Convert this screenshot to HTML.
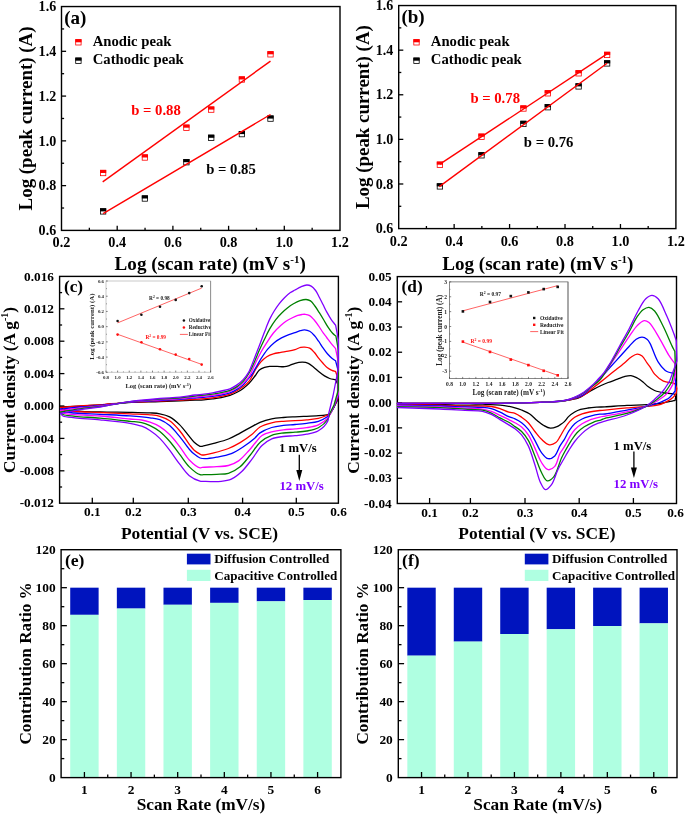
<!DOCTYPE html>
<html><head><meta charset="utf-8"><style>
html,body{margin:0;padding:0;background:#fff;width:685px;height:814px;overflow:hidden}
svg{display:block}
</style></head><body>
<svg width="685" height="814" viewBox="0 0 685 814" font-family="'Liberation Serif', 'Times New Roman', serif" font-weight="bold">
<defs><clipPath id="clipc"><rect x="100" y="280" width="110.4" height="93"/></clipPath></defs>
<rect x="61.50" y="6.55" width="278.50" height="223.85" fill="none" stroke="#000" stroke-width="1.4"/>
<line x1="61.50" y1="208.02" x2="64.10" y2="208.02" stroke="#000" stroke-width="1.3"/>
<line x1="61.50" y1="185.63" x2="66.10" y2="185.63" stroke="#000" stroke-width="1.3"/>
<line x1="61.50" y1="163.25" x2="64.10" y2="163.25" stroke="#000" stroke-width="1.3"/>
<line x1="61.50" y1="140.86" x2="66.10" y2="140.86" stroke="#000" stroke-width="1.3"/>
<line x1="61.50" y1="118.47" x2="64.10" y2="118.47" stroke="#000" stroke-width="1.3"/>
<line x1="61.50" y1="96.09" x2="66.10" y2="96.09" stroke="#000" stroke-width="1.3"/>
<line x1="61.50" y1="73.70" x2="64.10" y2="73.70" stroke="#000" stroke-width="1.3"/>
<line x1="61.50" y1="51.32" x2="66.10" y2="51.32" stroke="#000" stroke-width="1.3"/>
<line x1="61.50" y1="28.94" x2="64.10" y2="28.94" stroke="#000" stroke-width="1.3"/>
<line x1="89.35" y1="230.40" x2="89.35" y2="227.80" stroke="#000" stroke-width="1.3"/>
<line x1="117.20" y1="230.40" x2="117.20" y2="225.80" stroke="#000" stroke-width="1.3"/>
<line x1="145.05" y1="230.40" x2="145.05" y2="227.80" stroke="#000" stroke-width="1.3"/>
<line x1="172.90" y1="230.40" x2="172.90" y2="225.80" stroke="#000" stroke-width="1.3"/>
<line x1="200.75" y1="230.40" x2="200.75" y2="227.80" stroke="#000" stroke-width="1.3"/>
<line x1="228.60" y1="230.40" x2="228.60" y2="225.80" stroke="#000" stroke-width="1.3"/>
<line x1="256.45" y1="230.40" x2="256.45" y2="227.80" stroke="#000" stroke-width="1.3"/>
<line x1="284.30" y1="230.40" x2="284.30" y2="225.80" stroke="#000" stroke-width="1.3"/>
<line x1="312.15" y1="230.40" x2="312.15" y2="227.80" stroke="#000" stroke-width="1.3"/>
<text x="56.2" y="235.1" font-size="13.9" text-anchor="end" textLength="17.6" lengthAdjust="spacingAndGlyphs" fill="#000">0.6</text>
<text x="61.5" y="247.3" font-size="13.9" text-anchor="middle" textLength="17.8" lengthAdjust="spacingAndGlyphs" fill="#000">0.2</text>
<text x="56.2" y="190.32999999999998" font-size="13.9" text-anchor="end" textLength="17.6" lengthAdjust="spacingAndGlyphs" fill="#000">0.8</text>
<text x="117.2" y="247.3" font-size="13.9" text-anchor="middle" textLength="17.8" lengthAdjust="spacingAndGlyphs" fill="#000">0.4</text>
<text x="56.2" y="145.56" font-size="13.9" text-anchor="end" textLength="17.6" lengthAdjust="spacingAndGlyphs" fill="#000">1.0</text>
<text x="172.90000000000003" y="247.3" font-size="13.9" text-anchor="middle" textLength="17.8" lengthAdjust="spacingAndGlyphs" fill="#000">0.6</text>
<text x="56.2" y="100.78999999999998" font-size="13.9" text-anchor="end" textLength="17.6" lengthAdjust="spacingAndGlyphs" fill="#000">1.2</text>
<text x="228.60000000000002" y="247.3" font-size="13.9" text-anchor="middle" textLength="17.8" lengthAdjust="spacingAndGlyphs" fill="#000">0.8</text>
<text x="56.2" y="56.020000000000024" font-size="13.9" text-anchor="end" textLength="17.6" lengthAdjust="spacingAndGlyphs" fill="#000">1.4</text>
<text x="284.3" y="247.3" font-size="13.9" text-anchor="middle" textLength="17.8" lengthAdjust="spacingAndGlyphs" fill="#000">1.0</text>
<text x="56.2" y="11.25000000000001" font-size="13.9" text-anchor="end" textLength="17.6" lengthAdjust="spacingAndGlyphs" fill="#000">1.6</text>
<text x="340.0" y="247.3" font-size="13.9" text-anchor="middle" textLength="17.8" lengthAdjust="spacingAndGlyphs" fill="#000">1.2</text>
<text x="64.2" y="24.25" font-size="19" fill="#000">(a)</text>
<rect x="75.30" y="39.20" width="6.20" height="3.10" fill="#ff0000"/>
<rect x="75.70" y="39.60" width="5.40" height="5.40" fill="none" stroke="#ff0000" stroke-width="0.8"/>
<text x="92.7" y="45.5" font-size="14.7" fill="#000">Anodic peak</text>
<rect x="75.30" y="57.60" width="6.20" height="3.10" fill="#000"/>
<rect x="75.70" y="58.00" width="5.40" height="5.40" fill="none" stroke="#000" stroke-width="0.8"/>
<text x="92.7" y="63.5" font-size="14.7" fill="#000">Cathodic peak</text>
<rect x="100.00" y="169.90" width="6.20" height="3.10" fill="#ff0000"/>
<rect x="100.40" y="170.30" width="5.40" height="5.40" fill="none" stroke="#ff0000" stroke-width="0.8"/>
<rect x="141.80" y="154.40" width="6.20" height="3.10" fill="#ff0000"/>
<rect x="142.20" y="154.80" width="5.40" height="5.40" fill="none" stroke="#ff0000" stroke-width="0.8"/>
<rect x="183.30" y="124.60" width="6.20" height="3.10" fill="#ff0000"/>
<rect x="183.70" y="125.00" width="5.40" height="5.40" fill="none" stroke="#ff0000" stroke-width="0.8"/>
<rect x="208.10" y="106.50" width="6.20" height="3.10" fill="#ff0000"/>
<rect x="208.50" y="106.90" width="5.40" height="5.40" fill="none" stroke="#ff0000" stroke-width="0.8"/>
<rect x="238.80" y="76.40" width="6.20" height="3.10" fill="#ff0000"/>
<rect x="239.20" y="76.80" width="5.40" height="5.40" fill="none" stroke="#ff0000" stroke-width="0.8"/>
<rect x="267.40" y="51.20" width="6.20" height="3.10" fill="#ff0000"/>
<rect x="267.80" y="51.60" width="5.40" height="5.40" fill="none" stroke="#ff0000" stroke-width="0.8"/>
<rect x="100.00" y="208.30" width="6.20" height="3.10" fill="#000"/>
<rect x="100.40" y="208.70" width="5.40" height="5.40" fill="none" stroke="#000" stroke-width="0.8"/>
<rect x="141.80" y="195.40" width="6.20" height="3.10" fill="#000"/>
<rect x="142.20" y="195.80" width="5.40" height="5.40" fill="none" stroke="#000" stroke-width="0.8"/>
<rect x="183.30" y="159.10" width="6.20" height="3.10" fill="#000"/>
<rect x="183.70" y="159.50" width="5.40" height="5.40" fill="none" stroke="#000" stroke-width="0.8"/>
<rect x="208.10" y="134.70" width="6.20" height="3.10" fill="#000"/>
<rect x="208.50" y="135.10" width="5.40" height="5.40" fill="none" stroke="#000" stroke-width="0.8"/>
<rect x="238.80" y="131.00" width="6.20" height="3.10" fill="#000"/>
<rect x="239.20" y="131.40" width="5.40" height="5.40" fill="none" stroke="#000" stroke-width="0.8"/>
<rect x="267.40" y="115.50" width="6.20" height="3.10" fill="#000"/>
<rect x="267.80" y="115.90" width="5.40" height="5.40" fill="none" stroke="#000" stroke-width="0.8"/>
<line x1="102.70" y1="181.90" x2="270.50" y2="61.10" stroke="#ff0000" stroke-width="1.4"/>
<line x1="103.10" y1="213.60" x2="270.50" y2="114.50" stroke="#ff0000" stroke-width="1.4"/>
<text x="131.2" y="115.2" font-size="14.7" fill="#ff0000">b = 0.88</text>
<text x="206.2" y="174.3" font-size="14.7" fill="#000">b = 0.85</text>
<text transform="translate(31.5,118.47500000000001) rotate(-90)" font-size="18.9" text-anchor="middle" fill="#000">Log (peak current) (A)</text>
<text x="114.60000000000001" y="269.5" font-size="19.1" fill="#000">Log (scan rate) (mV s<tspan dy="-7" font-size="11">-1</tspan><tspan dy="7">)</tspan></text>
<rect x="398.70" y="5.55" width="277.20" height="223.05" fill="none" stroke="#000" stroke-width="1.4"/>
<line x1="398.70" y1="206.30" x2="401.30" y2="206.30" stroke="#000" stroke-width="1.3"/>
<line x1="398.70" y1="183.99" x2="403.30" y2="183.99" stroke="#000" stroke-width="1.3"/>
<line x1="398.70" y1="161.69" x2="401.30" y2="161.69" stroke="#000" stroke-width="1.3"/>
<line x1="398.70" y1="139.38" x2="403.30" y2="139.38" stroke="#000" stroke-width="1.3"/>
<line x1="398.70" y1="117.07" x2="401.30" y2="117.07" stroke="#000" stroke-width="1.3"/>
<line x1="398.70" y1="94.77" x2="403.30" y2="94.77" stroke="#000" stroke-width="1.3"/>
<line x1="398.70" y1="72.47" x2="401.30" y2="72.47" stroke="#000" stroke-width="1.3"/>
<line x1="398.70" y1="50.16" x2="403.30" y2="50.16" stroke="#000" stroke-width="1.3"/>
<line x1="398.70" y1="27.86" x2="401.30" y2="27.86" stroke="#000" stroke-width="1.3"/>
<line x1="426.42" y1="228.60" x2="426.42" y2="226.00" stroke="#000" stroke-width="1.3"/>
<line x1="454.14" y1="228.60" x2="454.14" y2="224.00" stroke="#000" stroke-width="1.3"/>
<line x1="481.86" y1="228.60" x2="481.86" y2="226.00" stroke="#000" stroke-width="1.3"/>
<line x1="509.58" y1="228.60" x2="509.58" y2="224.00" stroke="#000" stroke-width="1.3"/>
<line x1="537.30" y1="228.60" x2="537.30" y2="226.00" stroke="#000" stroke-width="1.3"/>
<line x1="565.02" y1="228.60" x2="565.02" y2="224.00" stroke="#000" stroke-width="1.3"/>
<line x1="592.74" y1="228.60" x2="592.74" y2="226.00" stroke="#000" stroke-width="1.3"/>
<line x1="620.46" y1="228.60" x2="620.46" y2="224.00" stroke="#000" stroke-width="1.3"/>
<line x1="648.18" y1="228.60" x2="648.18" y2="226.00" stroke="#000" stroke-width="1.3"/>
<text x="393.4" y="233.29999999999998" font-size="13.9" text-anchor="end" textLength="17.6" lengthAdjust="spacingAndGlyphs" fill="#000">0.6</text>
<text x="398.7" y="245.5" font-size="13.9" text-anchor="middle" textLength="17.8" lengthAdjust="spacingAndGlyphs" fill="#000">0.2</text>
<text x="393.4" y="188.68999999999997" font-size="13.9" text-anchor="end" textLength="17.6" lengthAdjust="spacingAndGlyphs" fill="#000">0.8</text>
<text x="454.14" y="245.5" font-size="13.9" text-anchor="middle" textLength="17.8" lengthAdjust="spacingAndGlyphs" fill="#000">0.4</text>
<text x="393.4" y="144.07999999999998" font-size="13.9" text-anchor="end" textLength="17.6" lengthAdjust="spacingAndGlyphs" fill="#000">1.0</text>
<text x="509.58000000000004" y="245.5" font-size="13.9" text-anchor="middle" textLength="17.8" lengthAdjust="spacingAndGlyphs" fill="#000">0.6</text>
<text x="393.4" y="99.46999999999996" font-size="13.9" text-anchor="end" textLength="17.6" lengthAdjust="spacingAndGlyphs" fill="#000">1.2</text>
<text x="565.02" y="245.5" font-size="13.9" text-anchor="middle" textLength="17.8" lengthAdjust="spacingAndGlyphs" fill="#000">0.8</text>
<text x="393.4" y="54.86000000000003" font-size="13.9" text-anchor="end" textLength="17.6" lengthAdjust="spacingAndGlyphs" fill="#000">1.4</text>
<text x="620.46" y="245.5" font-size="13.9" text-anchor="middle" textLength="17.8" lengthAdjust="spacingAndGlyphs" fill="#000">1.0</text>
<text x="393.4" y="10.25000000000001" font-size="13.9" text-anchor="end" textLength="17.6" lengthAdjust="spacingAndGlyphs" fill="#000">1.6</text>
<text x="675.9" y="245.5" font-size="13.9" text-anchor="middle" textLength="17.8" lengthAdjust="spacingAndGlyphs" fill="#000">1.2</text>
<text x="401.4" y="23.25" font-size="19" fill="#000">(b)</text>
<rect x="413.40" y="39.20" width="6.20" height="3.10" fill="#ff0000"/>
<rect x="413.80" y="39.60" width="5.40" height="5.40" fill="none" stroke="#ff0000" stroke-width="0.8"/>
<text x="430.8" y="45.5" font-size="14.7" fill="#000">Anodic peak</text>
<rect x="413.40" y="57.60" width="6.20" height="3.10" fill="#000"/>
<rect x="413.80" y="58.00" width="5.40" height="5.40" fill="none" stroke="#000" stroke-width="0.8"/>
<text x="430.8" y="63.5" font-size="14.7" fill="#000">Cathodic peak</text>
<rect x="436.80" y="161.60" width="6.20" height="3.10" fill="#ff0000"/>
<rect x="437.20" y="162.00" width="5.40" height="5.40" fill="none" stroke="#ff0000" stroke-width="0.8"/>
<rect x="478.40" y="133.60" width="6.20" height="3.10" fill="#ff0000"/>
<rect x="478.80" y="134.00" width="5.40" height="5.40" fill="none" stroke="#ff0000" stroke-width="0.8"/>
<rect x="520.30" y="105.40" width="6.20" height="3.10" fill="#ff0000"/>
<rect x="520.70" y="105.80" width="5.40" height="5.40" fill="none" stroke="#ff0000" stroke-width="0.8"/>
<rect x="544.70" y="90.20" width="6.20" height="3.10" fill="#ff0000"/>
<rect x="545.10" y="90.60" width="5.40" height="5.40" fill="none" stroke="#ff0000" stroke-width="0.8"/>
<rect x="575.50" y="70.20" width="6.20" height="3.10" fill="#ff0000"/>
<rect x="575.90" y="70.60" width="5.40" height="5.40" fill="none" stroke="#ff0000" stroke-width="0.8"/>
<rect x="604.00" y="51.80" width="6.20" height="3.10" fill="#ff0000"/>
<rect x="604.40" y="52.20" width="5.40" height="5.40" fill="none" stroke="#ff0000" stroke-width="0.8"/>
<rect x="436.80" y="183.30" width="6.20" height="3.10" fill="#000"/>
<rect x="437.20" y="183.70" width="5.40" height="5.40" fill="none" stroke="#000" stroke-width="0.8"/>
<rect x="478.40" y="152.20" width="6.20" height="3.10" fill="#000"/>
<rect x="478.80" y="152.60" width="5.40" height="5.40" fill="none" stroke="#000" stroke-width="0.8"/>
<rect x="520.30" y="120.80" width="6.20" height="3.10" fill="#000"/>
<rect x="520.70" y="121.20" width="5.40" height="5.40" fill="none" stroke="#000" stroke-width="0.8"/>
<rect x="544.70" y="104.10" width="6.20" height="3.10" fill="#000"/>
<rect x="545.10" y="104.50" width="5.40" height="5.40" fill="none" stroke="#000" stroke-width="0.8"/>
<rect x="575.50" y="83.30" width="6.20" height="3.10" fill="#000"/>
<rect x="575.90" y="83.70" width="5.40" height="5.40" fill="none" stroke="#000" stroke-width="0.8"/>
<rect x="604.00" y="60.30" width="6.20" height="3.10" fill="#000"/>
<rect x="604.40" y="60.70" width="5.40" height="5.40" fill="none" stroke="#000" stroke-width="0.8"/>
<line x1="439.90" y1="164.20" x2="607.10" y2="53.90" stroke="#ff0000" stroke-width="1.4"/>
<line x1="439.30" y1="186.60" x2="607.10" y2="63.20" stroke="#ff0000" stroke-width="1.4"/>
<text x="470.4" y="102.5" font-size="14.7" fill="#ff0000">b = 0.78</text>
<text x="523.8000000000001" y="146.9" font-size="14.7" fill="#000">b = 0.76</text>
<text transform="translate(368.9,117.075) rotate(-90)" font-size="18.9" text-anchor="middle" fill="#000">Log (peak current) (A)</text>
<text x="442.2" y="269.5" font-size="19.1" fill="#000">Log (scan rate) (mV s<tspan dy="-7" font-size="11">-1</tspan><tspan dy="7">)</tspan></text>
<rect x="59.60" y="276.40" width="278.80" height="226.80" fill="none" stroke="#000" stroke-width="1.4"/>
<text x="54.0" y="507.3" font-size="12.3" text-anchor="end" textLength="34.31" lengthAdjust="spacingAndGlyphs" fill="#000">-0.012</text>
<line x1="59.60" y1="470.80" x2="64.40" y2="470.80" stroke="#000" stroke-width="1.3"/>
<text x="54.0" y="474.90000000000003" font-size="12.3" text-anchor="end" textLength="34.31" lengthAdjust="spacingAndGlyphs" fill="#000">-0.008</text>
<line x1="59.60" y1="438.40" x2="64.40" y2="438.40" stroke="#000" stroke-width="1.3"/>
<text x="54.0" y="442.5" font-size="12.3" text-anchor="end" textLength="34.31" lengthAdjust="spacingAndGlyphs" fill="#000">-0.004</text>
<line x1="59.60" y1="406.00" x2="64.40" y2="406.00" stroke="#000" stroke-width="1.3"/>
<text x="54.0" y="410.1" font-size="12.3" text-anchor="end" textLength="29.89" lengthAdjust="spacingAndGlyphs" fill="#000">0.000</text>
<line x1="59.60" y1="373.60" x2="64.40" y2="373.60" stroke="#000" stroke-width="1.3"/>
<text x="54.0" y="377.70000000000005" font-size="12.3" text-anchor="end" textLength="29.89" lengthAdjust="spacingAndGlyphs" fill="#000">0.004</text>
<line x1="59.60" y1="341.20" x2="64.40" y2="341.20" stroke="#000" stroke-width="1.3"/>
<text x="54.0" y="345.3" font-size="12.3" text-anchor="end" textLength="29.89" lengthAdjust="spacingAndGlyphs" fill="#000">0.008</text>
<line x1="59.60" y1="308.80" x2="64.40" y2="308.80" stroke="#000" stroke-width="1.3"/>
<text x="54.0" y="312.9" font-size="12.3" text-anchor="end" textLength="29.89" lengthAdjust="spacingAndGlyphs" fill="#000">0.012</text>
<text x="54.0" y="280.5" font-size="12.3" text-anchor="end" textLength="29.89" lengthAdjust="spacingAndGlyphs" fill="#000">0.016</text>
<line x1="59.60" y1="487.00" x2="62.10" y2="487.00" stroke="#000" stroke-width="1.3"/>
<line x1="59.60" y1="454.60" x2="62.10" y2="454.60" stroke="#000" stroke-width="1.3"/>
<line x1="59.60" y1="422.20" x2="62.10" y2="422.20" stroke="#000" stroke-width="1.3"/>
<line x1="59.60" y1="389.80" x2="62.10" y2="389.80" stroke="#000" stroke-width="1.3"/>
<line x1="59.60" y1="357.40" x2="62.10" y2="357.40" stroke="#000" stroke-width="1.3"/>
<line x1="59.60" y1="325.00" x2="62.10" y2="325.00" stroke="#000" stroke-width="1.3"/>
<line x1="59.60" y1="292.60" x2="62.10" y2="292.60" stroke="#000" stroke-width="1.3"/>
<line x1="92.30" y1="503.20" x2="92.30" y2="497.70" stroke="#000" stroke-width="1.3"/>
<line x1="133.30" y1="503.20" x2="133.30" y2="497.70" stroke="#000" stroke-width="1.3"/>
<line x1="188.30" y1="503.20" x2="188.30" y2="497.70" stroke="#000" stroke-width="1.3"/>
<line x1="242.60" y1="503.20" x2="242.60" y2="497.70" stroke="#000" stroke-width="1.3"/>
<line x1="296.30" y1="503.20" x2="296.30" y2="497.70" stroke="#000" stroke-width="1.3"/>
<text x="92.3" y="516.3" font-size="12.3" text-anchor="middle" textLength="16.61" lengthAdjust="spacingAndGlyphs" fill="#000">0.1</text>
<text x="133.3" y="516.3" font-size="12.3" text-anchor="middle" textLength="16.61" lengthAdjust="spacingAndGlyphs" fill="#000">0.2</text>
<text x="188.3" y="516.3" font-size="12.3" text-anchor="middle" textLength="16.61" lengthAdjust="spacingAndGlyphs" fill="#000">0.3</text>
<text x="242.6" y="516.3" font-size="12.3" text-anchor="middle" textLength="16.61" lengthAdjust="spacingAndGlyphs" fill="#000">0.4</text>
<text x="296.3" y="516.3" font-size="12.3" text-anchor="middle" textLength="16.61" lengthAdjust="spacingAndGlyphs" fill="#000">0.5</text>
<text x="338.5" y="516.3" font-size="12.3" text-anchor="middle" textLength="16.61" lengthAdjust="spacingAndGlyphs" fill="#000">0.6</text>
<text x="63.9" y="292.09999999999997" font-size="16.6" textLength="19.16" lengthAdjust="spacingAndGlyphs" fill="#000">(c)</text>
<rect x="397.30" y="276.60" width="279.20" height="226.90" fill="none" stroke="#000" stroke-width="1.4"/>
<text x="391.7" y="507.6" font-size="12.3" text-anchor="end" textLength="27.67" lengthAdjust="spacingAndGlyphs" fill="#000">-0.04</text>
<line x1="397.30" y1="478.29" x2="402.10" y2="478.29" stroke="#000" stroke-width="1.3"/>
<text x="391.7" y="482.3888888888889" font-size="12.3" text-anchor="end" textLength="27.67" lengthAdjust="spacingAndGlyphs" fill="#000">-0.03</text>
<line x1="397.30" y1="453.08" x2="402.10" y2="453.08" stroke="#000" stroke-width="1.3"/>
<text x="391.7" y="457.1777777777778" font-size="12.3" text-anchor="end" textLength="27.67" lengthAdjust="spacingAndGlyphs" fill="#000">-0.02</text>
<line x1="397.30" y1="427.87" x2="402.10" y2="427.87" stroke="#000" stroke-width="1.3"/>
<text x="391.7" y="431.9666666666667" font-size="12.3" text-anchor="end" textLength="27.67" lengthAdjust="spacingAndGlyphs" fill="#000">-0.01</text>
<line x1="397.30" y1="402.66" x2="402.10" y2="402.66" stroke="#000" stroke-width="1.3"/>
<text x="391.7" y="406.7555555555556" font-size="12.3" text-anchor="end" textLength="23.25" lengthAdjust="spacingAndGlyphs" fill="#000">0.00</text>
<line x1="397.30" y1="377.44" x2="402.10" y2="377.44" stroke="#000" stroke-width="1.3"/>
<text x="391.7" y="381.5444444444445" font-size="12.3" text-anchor="end" textLength="23.25" lengthAdjust="spacingAndGlyphs" fill="#000">0.01</text>
<line x1="397.30" y1="352.23" x2="402.10" y2="352.23" stroke="#000" stroke-width="1.3"/>
<text x="391.7" y="356.33333333333337" font-size="12.3" text-anchor="end" textLength="23.25" lengthAdjust="spacingAndGlyphs" fill="#000">0.02</text>
<line x1="397.30" y1="327.02" x2="402.10" y2="327.02" stroke="#000" stroke-width="1.3"/>
<text x="391.7" y="331.12222222222226" font-size="12.3" text-anchor="end" textLength="23.25" lengthAdjust="spacingAndGlyphs" fill="#000">0.03</text>
<line x1="397.30" y1="301.81" x2="402.10" y2="301.81" stroke="#000" stroke-width="1.3"/>
<text x="391.7" y="305.91111111111115" font-size="12.3" text-anchor="end" textLength="23.25" lengthAdjust="spacingAndGlyphs" fill="#000">0.04</text>
<text x="391.7" y="280.70000000000005" font-size="12.3" text-anchor="end" textLength="23.25" lengthAdjust="spacingAndGlyphs" fill="#000">0.05</text>
<line x1="429.60" y1="503.50" x2="429.60" y2="498.00" stroke="#000" stroke-width="1.3"/>
<line x1="470.40" y1="503.50" x2="470.40" y2="498.00" stroke="#000" stroke-width="1.3"/>
<line x1="525.00" y1="503.50" x2="525.00" y2="498.00" stroke="#000" stroke-width="1.3"/>
<line x1="579.20" y1="503.50" x2="579.20" y2="498.00" stroke="#000" stroke-width="1.3"/>
<line x1="633.40" y1="503.50" x2="633.40" y2="498.00" stroke="#000" stroke-width="1.3"/>
<text x="429.6" y="516.6" font-size="12.3" text-anchor="middle" textLength="16.61" lengthAdjust="spacingAndGlyphs" fill="#000">0.1</text>
<text x="470.4" y="516.6" font-size="12.3" text-anchor="middle" textLength="16.61" lengthAdjust="spacingAndGlyphs" fill="#000">0.2</text>
<text x="525" y="516.6" font-size="12.3" text-anchor="middle" textLength="16.61" lengthAdjust="spacingAndGlyphs" fill="#000">0.3</text>
<text x="579.2" y="516.6" font-size="12.3" text-anchor="middle" textLength="16.61" lengthAdjust="spacingAndGlyphs" fill="#000">0.4</text>
<text x="633.4" y="516.6" font-size="12.3" text-anchor="middle" textLength="16.61" lengthAdjust="spacingAndGlyphs" fill="#000">0.5</text>
<text x="675.5" y="516.6" font-size="12.3" text-anchor="middle" textLength="16.61" lengthAdjust="spacingAndGlyphs" fill="#000">0.6</text>
<text x="401.6" y="292.3" font-size="16.6" textLength="21.1" lengthAdjust="spacingAndGlyphs" fill="#000">(d)</text>
<text transform="translate(15.0,389.9) rotate(-90)" font-size="17.3" text-anchor="middle" fill="#000">Current density (A g<tspan dy="-6.6" font-size="10">-1</tspan><tspan dy="6.6">)</tspan></text>
<text transform="translate(358.6,390.2) rotate(-90)" font-size="17.4" text-anchor="middle" fill="#000">Current density (A g<tspan dy="-6.6" font-size="10">-1</tspan><tspan dy="6.6">)</tspan></text>
<text x="199.6" y="539.4" font-size="17.4" text-anchor="middle" fill="#000">Potential (V vs. SCE)</text>
<text x="536.9" y="539.4" font-size="17.4" text-anchor="middle" fill="#000">Potential (V vs. SCE)</text>
<rect x="106.00" y="281.00" width="104.60" height="91.30" fill="#fff" stroke="#c4c4c4" stroke-width="0.9"/>
<line x1="210.60" y1="281.00" x2="210.60" y2="372.30" stroke="#8a8a8a" stroke-width="0.9"/>
<line x1="106.00" y1="372.30" x2="107.70" y2="372.30" stroke="#333" stroke-width="0.6"/>
<text x="104.0" y="374.064" font-size="4.9" text-anchor="end" fill="#222">-0.6</text>
<line x1="106.00" y1="364.69" x2="107.00" y2="364.69" stroke="#444" stroke-width="0.5"/>
<line x1="106.00" y1="357.08" x2="107.70" y2="357.08" stroke="#333" stroke-width="0.6"/>
<text x="104.0" y="358.8473333333334" font-size="4.9" text-anchor="end" fill="#222">-0.4</text>
<line x1="106.00" y1="349.48" x2="107.00" y2="349.48" stroke="#444" stroke-width="0.5"/>
<line x1="106.00" y1="341.87" x2="107.70" y2="341.87" stroke="#333" stroke-width="0.6"/>
<text x="104.0" y="343.6306666666667" font-size="4.9" text-anchor="end" fill="#222">-0.2</text>
<line x1="106.00" y1="334.26" x2="107.00" y2="334.26" stroke="#444" stroke-width="0.5"/>
<line x1="106.00" y1="326.65" x2="107.70" y2="326.65" stroke="#333" stroke-width="0.6"/>
<text x="104.0" y="328.414" font-size="4.9" text-anchor="end" fill="#222">0.0</text>
<line x1="106.00" y1="319.04" x2="107.00" y2="319.04" stroke="#444" stroke-width="0.5"/>
<line x1="106.00" y1="311.43" x2="107.70" y2="311.43" stroke="#333" stroke-width="0.6"/>
<text x="104.0" y="313.19733333333335" font-size="4.9" text-anchor="end" fill="#222">0.2</text>
<line x1="106.00" y1="303.83" x2="107.00" y2="303.83" stroke="#444" stroke-width="0.5"/>
<line x1="106.00" y1="296.22" x2="107.70" y2="296.22" stroke="#333" stroke-width="0.6"/>
<text x="104.0" y="297.9806666666667" font-size="4.9" text-anchor="end" fill="#222">0.4</text>
<line x1="106.00" y1="288.61" x2="107.00" y2="288.61" stroke="#444" stroke-width="0.5"/>
<line x1="106.00" y1="281.00" x2="107.70" y2="281.00" stroke="#333" stroke-width="0.6"/>
<text x="104.0" y="282.764" font-size="4.9" text-anchor="end" fill="#222">0.6</text>
<line x1="106.00" y1="372.30" x2="106.00" y2="370.60" stroke="#333" stroke-width="0.6"/>
<text x="106.0" y="379.2" font-size="4.9" text-anchor="middle" fill="#222">0.8</text>
<line x1="111.81" y1="372.30" x2="111.81" y2="371.30" stroke="#444" stroke-width="0.5"/>
<line x1="117.62" y1="372.30" x2="117.62" y2="370.60" stroke="#333" stroke-width="0.6"/>
<text x="117.62222222222222" y="379.2" font-size="4.9" text-anchor="middle" fill="#222">1.0</text>
<line x1="123.43" y1="372.30" x2="123.43" y2="371.30" stroke="#444" stroke-width="0.5"/>
<line x1="129.24" y1="372.30" x2="129.24" y2="370.60" stroke="#333" stroke-width="0.6"/>
<text x="129.24444444444444" y="379.2" font-size="4.9" text-anchor="middle" fill="#222">1.2</text>
<line x1="135.06" y1="372.30" x2="135.06" y2="371.30" stroke="#444" stroke-width="0.5"/>
<line x1="140.87" y1="372.30" x2="140.87" y2="370.60" stroke="#333" stroke-width="0.6"/>
<text x="140.86666666666667" y="379.2" font-size="4.9" text-anchor="middle" fill="#222">1.4</text>
<line x1="146.68" y1="372.30" x2="146.68" y2="371.30" stroke="#444" stroke-width="0.5"/>
<line x1="152.49" y1="372.30" x2="152.49" y2="370.60" stroke="#333" stroke-width="0.6"/>
<text x="152.48888888888888" y="379.2" font-size="4.9" text-anchor="middle" fill="#222">1.6</text>
<line x1="158.30" y1="372.30" x2="158.30" y2="371.30" stroke="#444" stroke-width="0.5"/>
<line x1="164.11" y1="372.30" x2="164.11" y2="370.60" stroke="#333" stroke-width="0.6"/>
<text x="164.11111111111111" y="379.2" font-size="4.9" text-anchor="middle" fill="#222">1.8</text>
<line x1="169.92" y1="372.30" x2="169.92" y2="371.30" stroke="#444" stroke-width="0.5"/>
<line x1="175.73" y1="372.30" x2="175.73" y2="370.60" stroke="#333" stroke-width="0.6"/>
<text x="175.73333333333332" y="379.2" font-size="4.9" text-anchor="middle" fill="#222">2.0</text>
<line x1="181.54" y1="372.30" x2="181.54" y2="371.30" stroke="#444" stroke-width="0.5"/>
<line x1="187.36" y1="372.30" x2="187.36" y2="370.60" stroke="#333" stroke-width="0.6"/>
<text x="187.35555555555555" y="379.2" font-size="4.9" text-anchor="middle" fill="#222">2.2</text>
<line x1="193.17" y1="372.30" x2="193.17" y2="371.30" stroke="#444" stroke-width="0.5"/>
<line x1="198.98" y1="372.30" x2="198.98" y2="370.60" stroke="#333" stroke-width="0.6"/>
<text x="198.97777777777776" y="379.2" font-size="4.9" text-anchor="middle" fill="#222">2.4</text>
<line x1="204.79" y1="372.30" x2="204.79" y2="371.30" stroke="#444" stroke-width="0.5"/>
<line x1="210.60" y1="372.30" x2="210.60" y2="370.60" stroke="#333" stroke-width="0.6"/>
<text x="210.6" y="379.2" font-size="4.9" text-anchor="middle" fill="#222">2.6</text>
<line x1="117.60" y1="322.90" x2="201.70" y2="288.10" stroke="#ff3030" stroke-width="0.75"/>
<line x1="117.60" y1="334.30" x2="201.70" y2="364.40" stroke="#ff3030" stroke-width="0.75"/>
<circle cx="117.6" cy="321" r="1.3" fill="#111"/>
<circle cx="141.4" cy="314.7" r="1.3" fill="#111"/>
<circle cx="160" cy="306.7" r="1.3" fill="#111"/>
<circle cx="175.7" cy="299.9" r="1.3" fill="#111"/>
<circle cx="189.2" cy="293.1" r="1.3" fill="#111"/>
<circle cx="201.7" cy="286.2" r="1.3" fill="#111"/>
<circle cx="117.6" cy="334.6" r="1.3" fill="#ff1010"/>
<circle cx="141.4" cy="342.2" r="1.3" fill="#ff1010"/>
<circle cx="160" cy="349.2" r="1.3" fill="#ff1010"/>
<circle cx="175.7" cy="354.6" r="1.3" fill="#ff1010"/>
<circle cx="189.2" cy="359.1" r="1.3" fill="#ff1010"/>
<circle cx="201.7" cy="364.6" r="1.3" fill="#ff1010"/>
<text x="149.1" y="299.5" font-size="5.3" fill="#222">R<tspan dy="-2" font-size="3.7">2</tspan><tspan dy="2"> = 0.98</tspan></text>
<text x="145.4" y="339.0" font-size="5.3" fill="#ff1010">R<tspan dy="-2" font-size="3.7">2</tspan><tspan dy="2"> = 0.99</tspan></text>
<circle cx="183.9" cy="320.6" r="1.25" fill="#111"/>
<circle cx="183.9" cy="327.5" r="1.25" fill="#ff1010"/>
<line x1="179.90" y1="334.40" x2="187.90" y2="334.40" stroke="#ff2020" stroke-width="0.7"/>
<g clip-path="url(#clipc)">
<text x="188.8" y="322.47200000000004" font-size="5.2" fill="#222">Oxidative</text>
<text x="188.8" y="329.372" font-size="5.2" fill="#222">Reductive</text>
<text x="188.8" y="336.27200000000005" font-size="5.2" fill="#222">Linear Fit</text>
</g>
<text transform="translate(93.9,326.65) rotate(-90)" font-size="6.8" text-anchor="middle" fill="#222">Log (peak current) (A)</text>
<text x="158.3" y="388.0" font-size="6.5" text-anchor="middle" fill="#222">Log (scan rate) (mV s<tspan dy="-2.5" font-size="4.5">-1</tspan><tspan dy="2.5">)</tspan></text>
<rect x="449.50" y="281.90" width="118.50" height="96.70" fill="#fff" stroke="#555" stroke-width="0.7"/>
<line x1="568.00" y1="281.90" x2="568.00" y2="378.60" stroke="#777" stroke-width="0.7"/>
<line x1="449.50" y1="371.16" x2="451.20" y2="371.16" stroke="#333" stroke-width="0.6"/>
<text x="446.9" y="373.1415384615385" font-size="5.5" text-anchor="end" fill="#222">-3</text>
<line x1="449.50" y1="363.72" x2="450.50" y2="363.72" stroke="#444" stroke-width="0.5"/>
<line x1="449.50" y1="356.28" x2="451.20" y2="356.28" stroke="#333" stroke-width="0.6"/>
<text x="446.9" y="358.2646153846154" font-size="5.5" text-anchor="end" fill="#222">-2</text>
<line x1="449.50" y1="348.85" x2="450.50" y2="348.85" stroke="#444" stroke-width="0.5"/>
<line x1="449.50" y1="341.41" x2="451.20" y2="341.41" stroke="#333" stroke-width="0.6"/>
<text x="446.9" y="343.3876923076923" font-size="5.5" text-anchor="end" fill="#222">-1</text>
<line x1="449.50" y1="333.97" x2="450.50" y2="333.97" stroke="#444" stroke-width="0.5"/>
<line x1="449.50" y1="326.53" x2="451.20" y2="326.53" stroke="#333" stroke-width="0.6"/>
<text x="446.9" y="328.51076923076926" font-size="5.5" text-anchor="end" fill="#222">0</text>
<line x1="449.50" y1="319.09" x2="450.50" y2="319.09" stroke="#444" stroke-width="0.5"/>
<line x1="449.50" y1="311.65" x2="451.20" y2="311.65" stroke="#333" stroke-width="0.6"/>
<text x="446.9" y="313.63384615384615" font-size="5.5" text-anchor="end" fill="#222">1</text>
<line x1="449.50" y1="304.22" x2="450.50" y2="304.22" stroke="#444" stroke-width="0.5"/>
<line x1="449.50" y1="296.78" x2="451.20" y2="296.78" stroke="#333" stroke-width="0.6"/>
<text x="446.9" y="298.7569230769231" font-size="5.5" text-anchor="end" fill="#222">2</text>
<line x1="449.50" y1="289.34" x2="450.50" y2="289.34" stroke="#444" stroke-width="0.5"/>
<line x1="449.50" y1="281.90" x2="451.20" y2="281.90" stroke="#333" stroke-width="0.6"/>
<text x="446.9" y="283.88" font-size="5.5" text-anchor="end" fill="#222">3</text>
<line x1="449.50" y1="378.60" x2="449.50" y2="376.90" stroke="#333" stroke-width="0.6"/>
<text x="449.5" y="386.20000000000005" font-size="5.5" text-anchor="middle" fill="#222">0.8</text>
<line x1="456.08" y1="378.60" x2="456.08" y2="377.60" stroke="#444" stroke-width="0.5"/>
<line x1="462.67" y1="378.60" x2="462.67" y2="376.90" stroke="#333" stroke-width="0.6"/>
<text x="462.6666666666667" y="386.20000000000005" font-size="5.5" text-anchor="middle" fill="#222">1.0</text>
<line x1="469.25" y1="378.60" x2="469.25" y2="377.60" stroke="#444" stroke-width="0.5"/>
<line x1="475.83" y1="378.60" x2="475.83" y2="376.90" stroke="#333" stroke-width="0.6"/>
<text x="475.8333333333333" y="386.20000000000005" font-size="5.5" text-anchor="middle" fill="#222">1.2</text>
<line x1="482.42" y1="378.60" x2="482.42" y2="377.60" stroke="#444" stroke-width="0.5"/>
<line x1="489.00" y1="378.60" x2="489.00" y2="376.90" stroke="#333" stroke-width="0.6"/>
<text x="489.0" y="386.20000000000005" font-size="5.5" text-anchor="middle" fill="#222">1.4</text>
<line x1="495.58" y1="378.60" x2="495.58" y2="377.60" stroke="#444" stroke-width="0.5"/>
<line x1="502.17" y1="378.60" x2="502.17" y2="376.90" stroke="#333" stroke-width="0.6"/>
<text x="502.1666666666667" y="386.20000000000005" font-size="5.5" text-anchor="middle" fill="#222">1.6</text>
<line x1="508.75" y1="378.60" x2="508.75" y2="377.60" stroke="#444" stroke-width="0.5"/>
<line x1="515.33" y1="378.60" x2="515.33" y2="376.90" stroke="#333" stroke-width="0.6"/>
<text x="515.3333333333334" y="386.20000000000005" font-size="5.5" text-anchor="middle" fill="#222">1.8</text>
<line x1="521.92" y1="378.60" x2="521.92" y2="377.60" stroke="#444" stroke-width="0.5"/>
<line x1="528.50" y1="378.60" x2="528.50" y2="376.90" stroke="#333" stroke-width="0.6"/>
<text x="528.5" y="386.20000000000005" font-size="5.5" text-anchor="middle" fill="#222">2.0</text>
<line x1="535.08" y1="378.60" x2="535.08" y2="377.60" stroke="#444" stroke-width="0.5"/>
<line x1="541.67" y1="378.60" x2="541.67" y2="376.90" stroke="#333" stroke-width="0.6"/>
<text x="541.6666666666666" y="386.20000000000005" font-size="5.5" text-anchor="middle" fill="#222">2.2</text>
<line x1="548.25" y1="378.60" x2="548.25" y2="377.60" stroke="#444" stroke-width="0.5"/>
<line x1="554.83" y1="378.60" x2="554.83" y2="376.90" stroke="#333" stroke-width="0.6"/>
<text x="554.8333333333334" y="386.20000000000005" font-size="5.5" text-anchor="middle" fill="#222">2.4</text>
<line x1="561.42" y1="378.60" x2="561.42" y2="377.60" stroke="#444" stroke-width="0.5"/>
<line x1="568.00" y1="378.60" x2="568.00" y2="376.90" stroke="#333" stroke-width="0.6"/>
<text x="568.0" y="386.20000000000005" font-size="5.5" text-anchor="middle" fill="#222">2.6</text>
<line x1="462.90" y1="310.80" x2="557.70" y2="285.60" stroke="#ff3030" stroke-width="0.75"/>
<line x1="462.90" y1="342.10" x2="557.70" y2="375.30" stroke="#ff3030" stroke-width="0.75"/>
<rect x="461.60" y="310.10" width="2.60" height="2.60" fill="#111"/>
<rect x="488.70" y="300.70" width="2.60" height="2.60" fill="#111"/>
<rect x="509.50" y="294.80" width="2.60" height="2.60" fill="#111"/>
<rect x="527.10" y="291.10" width="2.60" height="2.60" fill="#111"/>
<rect x="542.40" y="287.80" width="2.60" height="2.60" fill="#111"/>
<rect x="556.40" y="285.60" width="2.60" height="2.60" fill="#111"/>
<rect x="461.60" y="340.30" width="2.60" height="2.60" fill="#ff1010"/>
<rect x="488.70" y="350.60" width="2.60" height="2.60" fill="#ff1010"/>
<rect x="509.50" y="358.30" width="2.60" height="2.60" fill="#ff1010"/>
<rect x="527.10" y="363.80" width="2.60" height="2.60" fill="#ff1010"/>
<rect x="542.40" y="369.50" width="2.60" height="2.60" fill="#ff1010"/>
<rect x="556.40" y="374.00" width="2.60" height="2.60" fill="#ff1010"/>
<text x="479.7" y="295.9" font-size="5.5" fill="#222">R<tspan dy="-2" font-size="3.8">2</tspan><tspan dy="2"> = 0.97</tspan></text>
<text x="470.5" y="343" font-size="5.5" fill="#ff1010">R<tspan dy="-2" font-size="3.8">2</tspan><tspan dy="2"> = 0.99</tspan></text>
<rect x="533.0" y="316.8" width="2.4" height="2.4" fill="#111"/>
<rect x="533.0" y="323.6" width="2.4" height="2.4" fill="#ff1010"/>
<line x1="530.20" y1="331.60" x2="538.20" y2="331.60" stroke="#ff2020" stroke-width="0.7"/>
<g>
<text x="539.9000000000001" y="319.98" font-size="5.5" fill="#222">Oxidative</text>
<text x="539.9000000000001" y="326.78000000000003" font-size="5.5" fill="#222">Reductive</text>
<text x="539.9000000000001" y="333.58000000000004" font-size="5.5" fill="#222">Linear Fit</text>
</g>
<text transform="translate(442.2,330.25) rotate(-90)" font-size="7.3" text-anchor="middle" fill="#222">Log (peak current) (A)</text>
<text x="508.75" y="394.6" font-size="7.2" text-anchor="middle" fill="#222">Log (scan rate) (mV s<tspan dy="-2.7" font-size="5.0">-1</tspan><tspan dy="2.7">)</tspan></text>
<text x="613.6" y="449.9" font-size="12.7" fill="#000">1 mV/s</text>
<text x="613.6" y="488.2" font-size="12.8" fill="#8000ff">12 mV/s</text>
<line x1="633.90" y1="451.60" x2="633.90" y2="469.00" stroke="#000" stroke-width="1.3"/>
<path d="M630.9,467.4 L636.9,467.4 L633.9,478 Z" fill="#000"/>
<path d="M60.50,407.00 C67.00,406.73 73.46,406.53 80.00,406.20 C86.63,405.87 92.78,405.53 100.00,405.00 C108.55,404.38 118.35,403.16 128.00,402.60 C138.30,402.00 150.58,401.94 160.00,401.60 C167.45,401.33 173.81,401.05 180.00,400.80 C185.36,400.59 190.66,400.39 195.00,400.20 C198.32,400.06 200.88,400.02 203.80,399.80 C206.71,399.58 209.60,399.26 212.50,398.90 C215.43,398.53 218.39,398.18 221.30,397.60 C224.22,397.02 227.29,396.33 230.00,395.40 C232.50,394.54 234.78,393.48 237.00,392.30 C239.17,391.14 241.20,389.89 243.20,388.40 C245.30,386.84 247.38,385.09 249.30,383.10 C251.33,380.99 253.25,378.29 255.00,376.00 C256.59,373.93 257.67,371.46 259.40,370.00 C260.93,368.71 262.83,368.00 264.60,367.40 C266.27,366.83 267.83,366.58 269.70,366.40 C271.93,366.18 274.63,366.35 277.10,366.40 C279.57,366.45 282.27,366.93 284.50,366.70 C286.40,366.50 287.98,365.95 289.70,365.40 C291.48,364.83 293.05,363.82 295.00,363.30 C297.23,362.70 300.08,362.16 302.40,362.20 C304.48,362.24 306.49,362.52 308.30,363.30 C310.16,364.10 311.72,365.67 313.40,367.00 C315.16,368.39 316.78,370.04 318.60,371.50 C320.48,373.01 322.54,374.69 324.50,375.90 C326.24,376.97 327.87,377.88 329.70,378.50 C331.56,379.13 333.63,379.23 335.60,379.60 M335.60,379.60 L337.60,384.00 L337.60,400.00 L333.00,409.00 L329.50,414.30 M329.50,414.30 C328.53,414.47 327.82,414.64 326.60,414.80 C324.57,415.07 321.38,415.37 318.40,415.60 C314.85,415.88 310.60,416.10 306.70,416.30 C302.80,416.50 298.89,416.60 295.00,416.80 C291.12,417.00 287.27,417.15 283.40,417.50 C279.50,417.85 275.57,418.10 271.70,418.90 C267.76,419.72 263.50,421.00 260.00,422.40 C256.96,423.62 254.76,425.02 251.80,426.60 C248.23,428.50 244.02,431.02 240.10,433.10 C236.22,435.15 232.59,437.33 228.40,439.00 C223.88,440.81 218.41,442.13 213.80,443.40 C209.70,444.53 204.43,446.02 202.10,446.30 C201.13,446.42 200.83,446.56 200.00,446.30 C198.49,445.83 195.95,443.90 194.20,442.30 C192.37,440.63 191.21,438.70 189.30,436.40 C186.59,433.14 182.96,427.97 179.50,424.60 C176.36,421.54 173.07,418.62 169.60,416.80 C166.47,415.16 163.10,414.45 159.80,413.80 C156.57,413.16 153.85,413.13 150.00,412.90 C144.51,412.57 137.34,412.45 130.00,412.30 C121.01,412.12 109.54,412.28 100.00,412.00 C91.28,411.75 81.81,411.47 75.00,410.80 C70.26,410.33 65.43,410.06 63.00,409.00 C61.75,408.45 61.33,407.67 60.50,407.00" stroke="#000000" stroke-width="1.3" fill="none" stroke-linejoin="round" stroke-linecap="round"/>
<path d="M60.50,407.50 C67.00,407.00 73.46,406.45 80.00,406.00 C86.62,405.55 92.78,405.33 100.00,404.80 C108.55,404.18 118.35,403.01 128.00,402.40 C138.30,401.75 150.58,401.53 160.00,401.10 C167.45,400.76 173.81,400.42 180.00,400.10 C185.36,399.82 189.81,399.66 195.00,399.30 C200.61,398.91 207.67,398.42 212.50,397.80 C215.94,397.36 218.39,396.92 221.30,396.30 C224.22,395.68 227.30,395.07 230.00,394.10 C232.51,393.20 234.78,392.06 237.00,390.80 C239.18,389.56 241.18,388.22 243.20,386.60 C245.39,384.85 247.67,383.11 249.60,380.60 C251.94,377.55 253.64,372.52 255.70,369.20 C257.41,366.43 258.98,364.03 260.90,361.90 C262.70,359.90 264.66,358.06 266.80,356.70 C268.84,355.39 271.09,354.51 273.40,353.80 C275.76,353.07 278.33,352.83 280.80,352.40 C283.26,351.97 285.79,351.68 288.20,351.20 C290.52,350.74 292.85,350.26 295.00,349.60 C297.01,348.98 298.95,347.80 300.70,347.40 C302.10,347.08 303.22,347.01 304.60,347.10 C306.19,347.21 308.15,347.40 309.70,348.20 C311.37,349.06 312.78,350.73 314.20,352.30 C315.76,354.02 317.10,356.33 318.60,358.20 C320.04,359.99 321.51,361.68 323.00,363.30 C324.44,364.87 325.84,366.59 327.40,367.80 C328.82,368.90 330.44,369.77 331.90,370.40 C333.16,370.94 334.37,371.13 335.60,371.50 M335.60,371.50 L337.80,378.00 L338.00,398.00 L334.00,407.00 L330.00,414.30 M330.00,414.30 C329.23,414.57 328.72,414.74 327.70,415.10 C325.64,415.82 321.72,417.62 318.40,418.40 C314.77,419.25 310.60,419.42 306.70,419.80 C302.80,420.18 298.89,420.45 295.00,420.70 C291.13,420.95 287.27,420.95 283.40,421.30 C279.50,421.65 275.55,421.87 271.70,422.80 C267.75,423.75 263.38,424.95 260.00,427.00 C256.80,428.95 254.88,432.14 251.80,434.60 C248.34,437.37 244.08,440.25 240.10,442.60 C236.27,444.86 232.60,446.84 228.40,448.50 C223.88,450.29 218.42,451.69 213.80,452.80 C209.71,453.78 204.40,455.25 202.10,455.00 C201.09,454.89 200.85,454.56 200.00,454.10 C198.52,453.29 195.95,451.78 194.20,450.20 C192.37,448.54 191.16,446.72 189.30,444.30 C186.54,440.70 182.96,434.58 179.50,430.50 C176.36,426.80 173.12,423.12 169.60,420.70 C166.51,418.58 163.13,417.28 159.80,416.30 C156.60,415.35 153.86,415.18 150.00,414.80 C144.52,414.26 137.34,414.24 130.00,413.90 C121.01,413.49 109.55,412.91 100.00,412.50 C91.29,412.12 81.81,412.06 75.00,411.50 C70.26,411.11 65.40,411.18 63.00,410.00 C61.70,409.36 61.33,408.33 60.50,407.50" stroke="#ff0000" stroke-width="1.3" fill="none" stroke-linejoin="round" stroke-linecap="round"/>
<path d="M60.50,409.00 C67.00,408.33 73.46,407.60 80.00,407.00 C86.62,406.40 92.78,406.09 100.00,405.40 C108.56,404.58 118.34,403.11 128.00,402.30 C138.30,401.44 150.58,401.05 160.00,400.50 C167.45,400.07 173.81,399.75 180.00,399.30 C185.36,398.91 189.81,398.48 195.00,398.00 C200.61,397.48 207.67,396.89 212.50,396.30 C215.94,395.88 218.39,395.58 221.30,395.00 C224.22,394.42 227.30,393.78 230.00,392.80 C232.51,391.88 234.79,390.72 237.00,389.40 C239.19,388.09 241.36,386.64 243.20,384.90 C245.03,383.17 246.47,380.82 248.00,379.00 C249.35,377.39 250.74,376.12 251.90,374.50 C253.08,372.86 253.81,371.26 255.00,369.20 C256.66,366.33 258.81,362.23 260.90,358.90 C262.97,355.60 265.15,352.10 267.50,349.30 C269.61,346.78 271.82,344.63 274.20,342.70 C276.50,340.84 279.00,339.27 281.50,337.90 C283.91,336.58 286.53,335.51 288.90,334.60 C291.01,333.79 293.05,333.27 295.00,332.60 C296.81,331.97 298.52,331.16 300.20,330.70 C301.71,330.29 303.09,329.83 304.60,329.90 C306.25,329.97 308.14,330.45 309.70,331.30 C311.36,332.20 312.78,333.76 314.20,335.30 C315.77,337.01 317.16,339.15 318.60,341.20 C320.10,343.34 321.50,345.76 323.00,347.90 C324.44,349.95 325.85,352.03 327.40,353.80 C328.83,355.44 330.42,356.97 331.90,358.20 C333.15,359.24 334.37,359.93 335.60,360.80 M335.60,360.80 L338.00,370.00 L338.20,396.00 L334.00,407.00 L330.00,414.30 M330.00,414.30 C329.23,415.03 328.80,415.71 327.70,416.50 C325.70,417.93 321.77,420.17 318.40,421.30 C314.81,422.50 310.61,422.77 306.70,423.30 C302.81,423.83 298.89,424.15 295.00,424.50 C291.13,424.85 287.26,424.90 283.40,425.40 C279.50,425.90 275.52,426.30 271.70,427.50 C267.72,428.75 263.00,430.81 260.00,432.90 C257.71,434.50 256.89,436.29 254.70,438.20 C251.63,440.86 246.99,444.39 243.00,447.00 C239.18,449.50 235.54,451.92 231.30,453.60 C226.81,455.38 221.32,456.34 216.70,457.20 C212.61,457.96 208.08,458.72 205.00,458.70 C202.98,458.69 201.66,458.63 200.00,458.00 C198.05,457.25 195.99,455.57 194.20,454.10 C192.42,452.64 191.13,451.29 189.30,449.20 C186.50,446.01 182.87,440.42 179.50,436.40 C176.29,432.57 173.11,428.47 169.60,425.60 C166.50,423.06 163.19,421.00 159.80,419.70 C156.64,418.49 153.86,418.36 150.00,417.80 C144.53,417.01 137.35,416.44 130.00,415.90 C121.02,415.23 109.54,414.80 100.00,414.30 C91.29,413.84 81.81,413.60 75.00,413.00 C70.27,412.58 65.40,412.68 63.00,411.50 C61.70,410.86 61.33,409.83 60.50,409.00" stroke="#0000ff" stroke-width="1.3" fill="none" stroke-linejoin="round" stroke-linecap="round"/>
<path d="M60.50,410.50 C67.00,409.67 73.45,408.75 80.00,408.00 C86.62,407.24 92.78,406.86 100.00,406.00 C108.56,404.98 118.34,403.12 128.00,402.10 C138.29,401.01 150.58,400.44 160.00,399.80 C167.45,399.29 173.82,398.99 180.00,398.50 C185.36,398.08 189.81,397.59 195.00,397.10 C200.61,396.57 207.67,396.05 212.50,395.40 C215.94,394.94 218.39,394.55 221.30,393.90 C224.22,393.25 227.31,392.57 230.00,391.50 C232.52,390.50 234.79,389.21 237.00,387.80 C239.19,386.40 241.21,384.96 243.20,383.10 C245.43,381.03 247.73,378.68 249.60,375.80 C251.75,372.49 253.13,367.99 255.00,364.10 C256.89,360.16 258.85,355.99 260.90,352.30 C262.80,348.89 264.74,345.88 266.80,342.70 C268.90,339.45 270.98,335.95 273.40,333.00 C275.73,330.17 278.67,327.40 281.00,325.30 C282.79,323.69 284.21,322.50 286.00,321.30 C287.84,320.06 289.91,318.99 291.90,318.00 C293.84,317.03 295.97,315.99 297.80,315.40 C299.29,314.92 300.68,314.68 302.00,314.50 C303.16,314.34 304.13,314.17 305.30,314.30 C306.67,314.46 308.32,314.79 309.70,315.60 C311.32,316.55 312.77,318.36 314.20,320.00 C315.75,321.77 317.16,323.85 318.60,325.90 C320.10,328.04 321.56,330.56 323.00,332.60 C324.26,334.38 325.42,335.79 326.70,337.50 C328.11,339.37 329.59,341.52 331.10,343.40 C332.56,345.22 334.10,346.87 335.60,348.60 M335.60,348.60 L338.20,362.00 L338.20,394.60 L334.00,406.00 L330.00,414.30 M330.00,414.30 C329.23,415.63 328.94,416.95 327.70,418.30 C325.76,420.42 321.84,423.24 318.40,424.80 C314.86,426.41 310.62,427.02 306.70,427.70 C302.82,428.38 298.89,428.55 295.00,428.90 C291.13,429.25 287.26,429.32 283.40,429.80 C279.50,430.28 275.37,430.80 271.70,431.80 C268.27,432.74 264.68,433.69 262.00,435.50 C259.53,437.17 258.06,439.65 256.00,442.00 C253.67,444.66 251.49,447.75 248.80,450.70 C245.76,454.04 242.24,458.38 238.60,460.90 C235.39,463.12 232.00,464.53 228.40,465.50 C224.71,466.49 220.82,466.39 216.70,466.70 C212.11,467.05 204.77,467.02 202.10,467.40 C201.08,467.55 200.91,468.09 200.00,467.90 C197.74,467.44 192.55,463.30 189.30,460.00 C185.64,456.28 182.86,450.63 179.50,446.30 C176.29,442.15 173.06,437.90 169.60,434.50 C166.47,431.43 163.21,428.69 159.80,426.60 C156.65,424.67 153.18,423.33 150.00,422.20 C147.16,421.19 144.73,420.53 141.70,420.00 C138.16,419.38 134.80,419.45 130.00,419.00 C122.31,418.29 109.55,416.73 100.00,416.00 C91.30,415.34 81.81,415.36 75.00,414.70 C70.26,414.24 65.40,414.20 63.00,413.00 C61.70,412.35 61.33,411.33 60.50,410.50" stroke="#ff00ff" stroke-width="1.3" fill="none" stroke-linejoin="round" stroke-linecap="round"/>
<path d="M60.50,412.00 C67.00,410.93 73.45,409.71 80.00,408.80 C86.61,407.88 92.79,407.49 100.00,406.50 C108.56,405.32 118.33,403.20 128.00,402.00 C138.29,400.72 150.58,399.94 160.00,399.20 C167.44,398.61 173.82,398.37 180.00,397.80 C185.36,397.31 189.81,396.69 195.00,396.10 C200.61,395.46 207.67,394.79 212.50,394.10 C215.94,393.61 218.39,393.23 221.30,392.60 C224.22,391.97 227.31,391.35 230.00,390.30 C232.52,389.32 234.81,388.07 237.00,386.60 C239.21,385.11 241.25,383.53 243.20,381.40 C245.49,378.91 247.69,375.63 249.60,372.30 C251.67,368.69 253.31,364.23 255.00,360.40 C256.56,356.85 257.84,353.58 259.40,350.10 C261.03,346.46 262.85,342.60 264.60,339.00 C266.28,335.54 267.84,332.13 269.70,328.90 C271.52,325.74 273.52,322.52 275.60,319.80 C277.48,317.34 279.47,315.21 281.50,313.20 C283.41,311.30 285.37,309.59 287.40,308.00 C289.37,306.46 291.38,305.02 293.50,303.80 C295.59,302.59 297.82,301.42 300.00,300.70 C302.02,300.03 304.24,299.39 306.10,299.50 C307.70,299.59 309.15,300.01 310.50,300.90 C312.13,301.98 313.49,304.13 314.90,306.00 C316.44,308.04 317.84,310.41 319.30,312.70 C320.81,315.07 322.32,317.55 323.80,320.00 C325.28,322.45 326.67,325.11 328.20,327.40 C329.61,329.52 331.15,331.78 332.60,333.30 C333.71,334.46 334.80,335.10 335.90,336.00 M335.90,336.00 L338.30,350.00 L338.30,390.00 L334.00,405.00 L329.50,414.30 M329.50,414.30 C328.90,416.03 328.89,417.73 327.70,419.50 C325.92,422.15 321.92,425.78 318.40,427.70 C314.91,429.60 310.63,430.25 306.70,431.00 C302.83,431.74 298.89,431.87 295.00,432.20 C291.13,432.53 287.26,432.49 283.40,433.00 C279.49,433.52 275.44,433.88 271.70,435.30 C267.79,436.79 263.89,438.92 260.50,441.90 C256.67,445.27 253.76,450.80 250.30,455.00 C246.96,459.06 243.91,463.60 240.10,466.70 C236.56,469.59 232.44,472.05 228.40,473.30 C224.62,474.47 220.71,474.07 216.70,474.30 C212.46,474.55 206.60,474.65 203.60,474.70 C202.03,474.72 201.43,475.16 200.00,474.70 C197.26,473.81 192.58,470.10 189.30,466.90 C185.68,463.37 182.78,458.36 179.50,454.10 C176.21,449.83 173.02,445.18 169.60,441.30 C166.44,437.71 163.24,434.19 159.80,431.50 C156.68,429.06 153.21,427.11 150.00,425.60 C147.19,424.28 144.75,423.41 141.70,422.70 C138.17,421.88 134.80,421.84 130.00,421.30 C122.31,420.43 109.55,418.95 100.00,418.10 C91.29,417.32 81.81,417.05 75.00,416.30 C70.26,415.77 65.40,415.71 63.00,414.50 C61.70,413.85 61.33,412.83 60.50,412.00" stroke="#008000" stroke-width="1.3" fill="none" stroke-linejoin="round" stroke-linecap="round"/>
<path d="M60.50,413.50 C67.00,412.20 73.44,410.68 80.00,409.60 C86.61,408.51 92.79,408.14 100.00,407.00 C108.57,405.65 118.33,403.19 128.00,401.80 C138.28,400.32 150.57,399.29 160.00,398.50 C167.44,397.87 173.82,397.85 180.00,397.20 C185.37,396.63 190.66,395.54 195.00,395.00 C198.32,394.59 200.88,394.47 203.80,394.10 C206.71,393.73 209.60,393.31 212.50,392.80 C215.43,392.28 218.38,391.67 221.30,391.00 C224.22,390.33 227.32,389.86 230.00,388.80 C232.53,387.79 234.81,386.42 237.00,384.90 C239.21,383.36 241.33,381.61 243.20,379.60 C245.14,377.52 246.74,375.53 248.40,372.60 C250.74,368.48 253.04,361.53 255.00,356.70 C256.63,352.68 257.95,349.36 259.40,345.60 C260.89,341.73 262.56,337.05 263.80,333.80 C264.68,331.49 265.24,330.06 266.10,327.90 C267.16,325.25 268.34,321.93 269.70,319.10 C271.04,316.30 272.59,313.60 274.20,311.00 C275.79,308.44 277.52,305.88 279.30,303.60 C280.96,301.47 282.65,299.55 284.50,297.70 C286.35,295.85 288.48,293.84 290.40,292.50 C291.97,291.41 293.37,290.88 295.00,290.00 C296.84,289.00 298.89,287.64 300.90,286.80 C302.83,285.99 304.97,285.05 306.80,285.00 C308.37,284.96 309.83,285.33 311.20,286.10 C312.80,287.01 314.30,288.77 315.60,290.50 C317.04,292.41 318.09,294.91 319.30,297.20 C320.55,299.57 321.77,302.06 323.00,304.50 C324.24,306.96 325.37,309.46 326.70,311.90 C328.06,314.39 329.56,317.01 331.10,319.30 C332.53,321.42 334.10,323.23 335.60,325.20 M335.60,325.20 L338.40,340.00 L338.40,368.00 L333.00,396.00 L328.50,414.30 M328.50,414.30 C328.23,416.60 328.79,418.90 327.70,421.20 C326.19,424.38 321.99,428.53 318.40,430.70 C314.95,432.78 310.63,433.37 306.70,434.20 C302.83,435.02 298.90,435.32 295.00,435.70 C291.13,436.08 287.26,435.99 283.40,436.50 C279.49,437.02 275.27,437.29 271.70,438.80 C268.15,440.30 265.04,442.54 262.00,445.50 C258.32,449.08 255.28,454.95 251.80,459.40 C248.44,463.70 245.16,468.40 241.50,471.80 C238.27,474.80 234.87,477.52 231.30,479.10 C228.04,480.54 224.98,480.89 221.10,481.30 C216.07,481.84 207.24,481.40 203.60,481.30 C201.95,481.25 201.47,481.49 200.00,481.10 C197.32,480.38 192.55,478.29 189.30,475.70 C185.63,472.77 182.71,468.04 179.50,463.90 C176.13,459.56 172.97,454.54 169.60,450.20 C166.39,446.06 163.24,441.79 159.80,438.40 C156.68,435.32 153.24,432.61 150.00,430.50 C147.21,428.68 144.78,427.36 141.70,426.20 C138.20,424.88 134.84,424.18 130.00,423.30 C122.35,421.91 109.55,420.74 100.00,419.80 C91.30,418.94 81.81,418.58 75.00,417.80 C70.26,417.26 65.40,417.21 63.00,416.00 C61.70,415.35 61.33,414.33 60.50,413.50" stroke="#8000ff" stroke-width="1.3" fill="none" stroke-linejoin="round" stroke-linecap="round"/>
<path d="M397.50,403.50 C415.00,403.43 432.71,403.33 450.00,403.30 C466.87,403.27 484.26,403.50 500.00,403.30 C514.08,403.12 530.56,402.61 540.00,402.30 C545.17,402.13 547.90,402.07 552.00,401.80 C556.32,401.52 560.89,401.26 565.30,400.60 C569.75,399.93 574.93,399.19 578.60,397.80 C581.47,396.71 583.41,395.07 585.80,393.70 C588.18,392.34 590.43,390.93 592.90,389.60 C595.51,388.19 598.45,386.72 601.10,385.50 C603.53,384.38 605.66,383.49 608.20,382.50 C611.08,381.38 614.64,380.25 617.50,379.20 C619.98,378.29 622.09,377.20 624.40,376.60 C626.59,376.03 628.86,375.37 631.00,375.60 C633.13,375.83 635.23,376.96 637.20,378.00 C639.23,379.07 641.18,380.56 643.00,382.00 C644.78,383.40 646.15,385.12 648.00,386.50 C649.99,387.97 652.05,389.45 654.60,390.50 C657.61,391.74 661.73,392.47 665.10,393.00 C668.14,393.48 670.97,393.47 673.90,393.70 M673.90,393.70 L675.70,397.00 L675.10,400.30 M675.10,400.30 C673.63,400.67 672.50,401.00 670.70,401.40 C667.88,402.02 663.62,402.97 659.80,403.50 C655.63,404.07 651.44,404.30 646.60,404.60 C640.69,404.97 633.64,405.05 626.90,405.40 C619.79,405.77 610.52,406.49 605.00,406.80 C601.64,406.99 599.66,407.01 596.90,407.20 C594.00,407.40 590.82,407.61 588.00,408.00 C585.41,408.36 582.89,408.69 580.60,409.40 C578.48,410.06 576.61,410.89 574.70,412.00 C572.66,413.19 570.54,414.76 568.80,416.40 C567.12,417.98 565.95,420.13 564.40,421.60 C563.00,422.92 561.35,424.01 560.00,424.90 C558.93,425.60 558.24,426.11 557.00,426.60 C555.27,427.29 552.57,428.36 550.40,428.20 C548.17,428.03 545.93,426.71 543.80,425.50 C541.49,424.19 539.38,422.34 537.10,420.50 C534.59,418.47 532.10,415.59 529.40,413.80 C526.91,412.15 524.12,411.03 521.60,410.00 C519.34,409.08 517.48,408.47 515.00,407.80 C511.90,406.97 507.78,406.10 504.40,405.60 C501.34,405.15 498.83,404.95 495.60,404.80 C491.67,404.62 487.18,404.75 482.50,404.80 C477.09,404.86 471.35,405.22 465.00,405.20 C457.41,405.18 449.43,404.69 440.00,404.50 C427.70,404.26 411.67,404.17 397.50,404.00" stroke="#000000" stroke-width="1.3" fill="none" stroke-linejoin="round" stroke-linecap="round"/>
<path d="M397.50,403.50 C415.00,403.43 432.71,403.33 450.00,403.30 C466.87,403.27 484.26,403.50 500.00,403.30 C514.08,403.12 530.56,402.61 540.00,402.30 C545.17,402.13 547.90,402.07 552.00,401.80 C556.32,401.52 561.18,401.21 565.30,400.60 C568.94,400.06 572.32,399.44 575.50,398.50 C578.42,397.64 581.00,396.84 583.70,395.30 C586.81,393.53 589.65,390.67 592.90,388.10 C596.59,385.18 600.94,381.70 604.70,378.70 C608.15,375.95 611.31,373.44 614.60,370.80 C617.88,368.17 621.44,365.36 624.40,362.90 C626.92,360.81 628.99,358.52 631.30,357.00 C633.26,355.71 635.31,354.18 637.20,354.10 C638.89,354.03 640.62,354.85 642.10,356.00 C643.98,357.46 645.55,360.92 647.00,362.90 C648.11,364.42 648.93,365.35 650.00,366.90 C651.41,368.93 652.59,371.87 654.60,374.10 C656.91,376.66 660.29,379.64 663.40,381.10 C666.16,382.39 670.03,382.46 672.10,382.90 C673.26,383.15 673.90,383.30 674.80,383.50 M674.80,383.50 L676.80,388.30 L676.20,393.10 M676.20,393.10 C675.10,394.57 674.33,396.14 672.90,397.50 C671.18,399.13 668.73,400.65 666.30,401.90 C663.67,403.25 660.72,404.47 657.60,405.20 C654.20,406.00 650.80,405.92 646.60,406.30 C640.99,406.81 633.64,407.29 626.90,407.90 C619.79,408.55 609.79,409.68 605.00,410.10 C602.67,410.31 601.82,410.28 599.80,410.50 C596.94,410.82 592.63,411.37 589.50,412.00 C586.81,412.54 584.53,413.05 582.10,413.90 C579.60,414.77 576.85,415.83 574.70,417.20 C572.74,418.45 571.21,419.83 569.60,421.60 C567.74,423.65 566.01,426.47 564.40,429.00 C562.81,431.50 561.49,434.33 560.00,436.70 C558.66,438.83 557.70,441.25 555.90,442.60 C554.12,443.93 551.51,445.13 549.30,444.80 C546.71,444.42 543.87,441.47 541.50,439.30 C539.05,437.06 537.06,434.21 534.90,431.50 C532.66,428.69 530.67,425.17 528.30,422.70 C526.20,420.50 523.89,418.80 521.60,417.20 C519.45,415.69 517.24,414.13 515.00,413.30 C512.97,412.55 511.01,412.83 508.80,412.20 C506.09,411.43 502.96,409.66 500.00,408.70 C497.12,407.77 494.23,406.93 491.30,406.50 C488.40,406.07 485.93,406.18 482.50,406.10 C477.66,405.99 471.35,406.21 465.00,406.10 C457.41,405.96 449.43,405.45 440.00,405.20 C427.70,404.88 411.67,404.73 397.50,404.50" stroke="#ff0000" stroke-width="1.3" fill="none" stroke-linejoin="round" stroke-linecap="round"/>
<path d="M397.50,403.50 C415.00,403.43 432.71,403.33 450.00,403.30 C466.87,403.27 484.26,403.50 500.00,403.30 C514.08,403.12 530.56,402.61 540.00,402.30 C545.17,402.13 547.90,402.09 552.00,401.80 C556.32,401.50 561.18,401.20 565.30,400.50 C568.95,399.88 572.33,399.06 575.50,398.00 C578.42,397.02 581.19,396.16 583.70,394.50 C586.35,392.75 588.31,390.14 590.90,387.60 C594.02,384.55 597.89,380.79 601.10,377.40 C604.14,374.19 606.73,371.09 609.70,367.80 C612.85,364.30 616.23,360.60 619.50,357.00 C622.77,353.40 626.28,349.37 629.30,346.20 C631.77,343.61 633.81,340.81 636.20,339.30 C638.11,338.09 640.24,337.14 642.10,337.20 C643.82,337.25 645.67,338.26 647.00,339.30 C648.29,340.31 648.89,341.39 650.00,343.30 C652.24,347.14 654.88,356.83 658.10,361.80 C660.69,365.81 663.84,369.68 666.90,371.50 C669.17,372.85 671.57,372.63 673.90,373.20 M673.90,373.20 L675.70,382.10 L675.10,391.00 M675.10,391.00 C673.27,393.17 671.92,395.66 669.60,397.50 C666.96,399.59 663.38,401.09 659.80,402.50 C655.80,404.08 651.47,405.13 646.60,406.30 C640.72,407.71 633.65,408.85 626.90,410.10 C619.80,411.42 609.80,413.48 605.00,414.00 C602.68,414.25 601.81,413.95 599.80,414.20 C596.93,414.56 592.62,415.52 589.50,416.40 C586.80,417.16 584.50,417.82 582.10,419.00 C579.56,420.25 576.89,421.82 574.70,423.80 C572.43,425.85 570.52,428.60 568.80,431.20 C567.10,433.77 565.93,436.77 564.40,439.30 C562.98,441.65 561.46,443.43 560.00,445.90 C558.26,448.85 557.10,453.77 554.80,455.90 C552.96,457.60 550.30,459.06 548.20,458.70 C545.84,458.30 543.53,455.19 541.50,452.60 C538.99,449.39 537.14,444.35 534.90,440.40 C532.74,436.59 530.73,432.39 528.30,429.30 C526.23,426.66 523.94,424.50 521.60,422.70 C519.49,421.07 517.22,419.84 515.00,418.80 C512.95,417.84 511.02,417.54 508.80,416.60 C506.09,415.45 502.95,413.53 500.00,412.20 C497.12,410.90 494.26,409.50 491.30,408.70 C488.42,407.92 485.94,407.70 482.50,407.40 C477.67,406.98 471.35,407.11 465.00,406.90 C457.41,406.65 449.43,406.26 440.00,406.00 C427.70,405.66 411.67,405.47 397.50,405.20" stroke="#0000ff" stroke-width="1.3" fill="none" stroke-linejoin="round" stroke-linecap="round"/>
<path d="M397.50,403.50 C415.00,403.43 432.71,403.33 450.00,403.30 C466.87,403.27 484.26,403.50 500.00,403.30 C514.08,403.12 530.56,402.61 540.00,402.30 C545.17,402.13 547.90,402.09 552.00,401.80 C556.32,401.50 561.20,401.30 565.30,400.50 C568.96,399.79 572.34,398.78 575.50,397.50 C578.45,396.31 581.13,394.87 583.70,393.20 C586.26,391.54 588.39,389.60 590.90,387.50 C593.79,385.09 597.10,382.72 600.00,379.50 C603.41,375.72 606.50,370.56 609.70,365.90 C613.00,361.10 616.23,356.02 619.50,351.10 C622.76,346.19 626.16,340.89 629.30,336.40 C632.03,332.49 634.43,328.36 637.20,325.60 C639.41,323.40 641.93,320.86 644.10,320.60 C645.81,320.39 647.28,321.19 649.00,322.60 C652.32,325.32 656.57,333.60 659.90,339.10 C663.07,344.34 665.83,350.38 668.60,354.80 C670.74,358.22 672.73,360.67 674.80,363.60 M674.80,363.60 L675.40,374.00 L672.90,384.40 M672.90,384.40 C671.07,387.30 669.77,390.47 667.40,393.10 C664.79,395.99 661.09,398.63 657.60,400.80 C654.15,402.95 650.88,404.46 646.60,406.10 C641.06,408.22 633.68,410.16 626.90,411.80 C619.83,413.51 609.78,415.12 605.00,416.10 C602.67,416.58 601.82,416.70 599.80,417.20 C596.94,417.90 592.60,418.90 589.50,420.10 C586.77,421.15 584.49,422.27 582.10,423.80 C579.54,425.43 576.80,427.45 574.70,429.70 C572.65,431.90 571.24,434.43 569.60,437.10 C567.79,440.05 566.13,443.83 564.40,446.70 C562.93,449.14 561.40,450.64 560.00,453.30 C558.14,456.85 557.29,463.68 554.80,466.40 C553.00,468.36 550.28,470.08 548.20,469.70 C545.80,469.27 543.51,465.51 541.50,462.50 C538.95,458.68 537.14,452.78 534.90,448.10 C532.74,443.59 530.76,438.60 528.30,434.90 C526.25,431.81 523.98,429.20 521.60,427.10 C519.51,425.25 517.21,423.98 515.00,422.70 C512.94,421.50 511.05,420.71 508.80,419.60 C506.13,418.28 502.93,416.69 500.00,415.30 C497.10,413.92 494.26,412.34 491.30,411.30 C488.42,410.29 485.96,409.61 482.50,409.10 C477.69,408.40 471.35,408.64 465.00,408.30 C457.41,407.90 449.44,407.19 440.00,406.80 C427.71,406.29 411.67,406.13 397.50,405.80" stroke="#ff00ff" stroke-width="1.3" fill="none" stroke-linejoin="round" stroke-linecap="round"/>
<path d="M397.50,403.50 C415.00,403.43 432.71,403.33 450.00,403.30 C466.87,403.27 484.26,403.50 500.00,403.30 C514.08,403.12 530.56,402.61 540.00,402.30 C545.17,402.13 547.90,402.09 552.00,401.80 C556.32,401.50 561.20,401.35 565.30,400.50 C568.97,399.74 572.34,398.55 575.50,397.20 C578.44,395.95 581.13,394.50 583.70,392.80 C586.26,391.10 588.37,389.02 590.90,387.00 C593.70,384.77 596.99,383.06 599.80,380.00 C603.35,376.13 606.47,370.10 609.70,364.90 C613.04,359.51 616.23,353.77 619.50,348.20 C622.77,342.63 626.26,336.93 629.30,331.50 C632.13,326.45 634.54,320.59 637.20,316.70 C639.15,313.84 640.93,311.37 643.10,309.80 C644.92,308.49 647.10,307.22 649.00,307.40 C650.94,307.58 652.77,309.05 654.60,311.00 C657.62,314.22 660.59,321.21 663.40,326.80 C666.44,332.85 669.98,341.72 672.10,346.10 C673.22,348.40 673.90,349.57 674.80,351.30 M674.80,351.30 L675.40,366.75 L671.80,382.20 M671.80,382.20 C669.60,385.47 667.76,389.07 665.20,392.00 C662.66,394.90 659.59,397.36 656.50,399.70 C653.39,402.06 650.59,404.10 646.60,406.10 C641.27,408.77 633.71,411.39 626.90,413.40 C619.86,415.48 609.22,416.98 605.00,418.30 C603.22,418.86 602.79,419.27 601.30,419.80 C599.14,420.57 595.92,421.20 593.20,422.30 C590.25,423.49 587.03,425.03 584.30,426.80 C581.65,428.51 579.17,430.42 577.00,432.70 C574.76,435.06 572.94,438.00 571.10,440.80 C569.24,443.63 567.53,446.68 565.90,449.60 C564.33,452.41 563.09,454.60 561.50,458.00 C559.17,463.00 556.92,473.19 553.70,476.90 C551.73,479.17 549.04,481.24 547.10,480.80 C544.89,480.30 543.27,475.86 541.50,472.50 C539.13,468.02 537.13,461.33 534.90,455.90 C532.73,450.63 530.80,444.73 528.30,440.40 C526.27,436.88 524.01,433.89 521.60,431.50 C519.53,429.44 517.18,428.16 515.00,426.60 C512.91,425.10 511.10,423.66 508.80,422.30 C506.17,420.74 502.91,419.43 500.00,417.90 C497.08,416.36 494.27,414.40 491.30,413.10 C488.43,411.85 485.98,410.87 482.50,410.20 C477.71,409.28 471.35,409.49 465.00,409.10 C457.41,408.63 449.44,407.99 440.00,407.60 C427.71,407.09 411.67,406.93 397.50,406.60" stroke="#008000" stroke-width="1.3" fill="none" stroke-linejoin="round" stroke-linecap="round"/>
<path d="M397.50,403.50 C415.00,403.43 432.71,403.33 450.00,403.30 C466.87,403.27 484.26,403.50 500.00,403.30 C514.08,403.12 530.56,402.61 540.00,402.30 C545.17,402.13 547.90,402.10 552.00,401.80 C556.32,401.48 561.21,401.32 565.30,400.40 C568.98,399.57 572.34,398.23 575.50,396.80 C578.44,395.47 581.12,393.92 583.70,392.20 C586.25,390.51 588.66,388.59 590.90,386.60 C593.09,384.65 594.91,382.63 597.00,380.40 C599.33,377.91 602.05,375.11 604.20,372.30 C606.27,369.60 607.67,367.26 609.70,363.90 C612.58,359.13 616.23,352.10 619.50,346.20 C622.77,340.30 626.19,334.42 629.30,328.50 C632.35,322.68 635.04,316.24 638.00,311.00 C640.55,306.49 643.00,301.45 645.80,298.80 C647.77,296.94 649.94,295.29 652.00,295.30 C654.04,295.31 656.17,296.76 658.10,298.80 C661.32,302.20 664.25,310.41 666.90,316.30 C669.50,322.08 672.22,329.26 673.90,333.80 C674.96,336.64 675.50,338.47 676.30,340.80 M676.30,340.80 L676.90,360.95 L669.60,381.10 M669.60,381.10 C667.40,384.40 665.44,388.03 663.00,391.00 C660.68,393.83 658.09,396.18 655.40,398.60 C652.64,401.08 650.29,403.39 646.60,405.70 C641.48,408.91 633.75,412.45 626.90,415.00 C619.90,417.61 610.19,419.60 605.00,421.10 C602.12,421.93 600.64,422.17 598.30,423.10 C595.52,424.20 592.22,425.76 589.50,427.50 C586.83,429.21 584.48,431.17 582.10,433.40 C579.54,435.80 576.93,438.65 574.70,441.50 C572.50,444.32 570.58,447.52 568.80,450.40 C567.18,453.01 565.99,455.22 564.40,458.00 C562.48,461.37 560.12,465.11 558.10,469.20 C555.79,473.87 554.15,481.07 551.50,484.60 C549.68,487.02 547.21,489.85 545.40,489.60 C543.49,489.33 541.90,485.48 540.40,482.40 C538.22,477.93 536.87,470.67 534.90,464.70 C532.85,458.51 530.82,451.22 528.30,445.90 C526.27,441.62 524.05,437.90 521.60,434.90 C519.55,432.40 517.25,430.52 515.00,428.80 C512.97,427.25 511.05,426.29 508.80,424.90 C506.13,423.26 502.93,421.36 500.00,419.60 C497.09,417.86 494.28,415.80 491.30,414.40 C488.44,413.06 485.99,411.99 482.50,411.30 C477.72,410.35 471.35,410.74 465.00,410.40 C457.41,409.99 449.43,409.43 440.00,409.00 C427.70,408.44 411.67,408.00 397.50,407.50" stroke="#8000ff" stroke-width="1.3" fill="none" stroke-linejoin="round" stroke-linecap="round"/>
<text x="279" y="451.6" font-size="12.7" fill="#000">1 mV/s</text>
<text x="279.4" y="490.2" font-size="12.8" fill="#8000ff">12 mV/s</text>
<line x1="299.30" y1="454.70" x2="299.30" y2="472.00" stroke="#000" stroke-width="1.3"/>
<path d="M296.3,470 L302.3,470 L299.3,481 Z" fill="#000"/>
<rect x="70.22" y="587.68" width="28.40" height="27.16" fill="#0014be"/>
<rect x="70.22" y="614.84" width="28.40" height="162.76" fill="#afffe1"/>
<rect x="116.85" y="587.68" width="28.40" height="20.89" fill="#0014be"/>
<rect x="116.85" y="608.57" width="28.40" height="169.03" fill="#afffe1"/>
<rect x="163.48" y="587.68" width="28.40" height="17.09" fill="#0014be"/>
<rect x="163.48" y="604.78" width="28.40" height="172.82" fill="#afffe1"/>
<rect x="210.12" y="587.68" width="28.40" height="15.19" fill="#0014be"/>
<rect x="210.12" y="602.88" width="28.40" height="174.72" fill="#afffe1"/>
<rect x="256.75" y="587.68" width="28.40" height="13.67" fill="#0014be"/>
<rect x="256.75" y="601.36" width="28.40" height="176.24" fill="#afffe1"/>
<rect x="303.38" y="587.68" width="28.40" height="12.34" fill="#0014be"/>
<rect x="303.38" y="600.03" width="28.40" height="177.57" fill="#afffe1"/>
<rect x="61.10" y="549.70" width="279.80" height="227.90" fill="none" stroke="#000" stroke-width="1.4"/>
<line x1="61.10" y1="758.61" x2="64.30" y2="758.61" stroke="#000" stroke-width="1.3"/>
<line x1="61.10" y1="739.62" x2="66.90" y2="739.62" stroke="#000" stroke-width="1.3"/>
<line x1="61.10" y1="720.62" x2="64.30" y2="720.62" stroke="#000" stroke-width="1.3"/>
<line x1="61.10" y1="701.63" x2="66.90" y2="701.63" stroke="#000" stroke-width="1.3"/>
<line x1="61.10" y1="682.64" x2="64.30" y2="682.64" stroke="#000" stroke-width="1.3"/>
<line x1="61.10" y1="663.65" x2="66.90" y2="663.65" stroke="#000" stroke-width="1.3"/>
<line x1="61.10" y1="644.66" x2="64.30" y2="644.66" stroke="#000" stroke-width="1.3"/>
<line x1="61.10" y1="625.67" x2="66.90" y2="625.67" stroke="#000" stroke-width="1.3"/>
<line x1="61.10" y1="606.68" x2="64.30" y2="606.68" stroke="#000" stroke-width="1.3"/>
<line x1="61.10" y1="587.68" x2="66.90" y2="587.68" stroke="#000" stroke-width="1.3"/>
<line x1="61.10" y1="568.69" x2="64.30" y2="568.69" stroke="#000" stroke-width="1.3"/>
<line x1="84.42" y1="777.60" x2="84.42" y2="772.00" stroke="#000" stroke-width="1.3"/>
<line x1="107.73" y1="777.60" x2="107.73" y2="774.60" stroke="#000" stroke-width="1.3"/>
<text x="84.41666666666666" y="793.8000000000001" font-size="13.4" text-anchor="middle" fill="#000">1</text>
<line x1="131.05" y1="777.60" x2="131.05" y2="772.00" stroke="#000" stroke-width="1.3"/>
<line x1="154.37" y1="777.60" x2="154.37" y2="774.60" stroke="#000" stroke-width="1.3"/>
<text x="131.04999999999998" y="793.8000000000001" font-size="13.4" text-anchor="middle" fill="#000">2</text>
<line x1="177.68" y1="777.60" x2="177.68" y2="772.00" stroke="#000" stroke-width="1.3"/>
<line x1="201.00" y1="777.60" x2="201.00" y2="774.60" stroke="#000" stroke-width="1.3"/>
<text x="177.6833333333333" y="793.8000000000001" font-size="13.4" text-anchor="middle" fill="#000">3</text>
<line x1="224.32" y1="777.60" x2="224.32" y2="772.00" stroke="#000" stroke-width="1.3"/>
<line x1="247.63" y1="777.60" x2="247.63" y2="774.60" stroke="#000" stroke-width="1.3"/>
<text x="224.31666666666663" y="793.8000000000001" font-size="13.4" text-anchor="middle" fill="#000">4</text>
<line x1="270.95" y1="777.60" x2="270.95" y2="772.00" stroke="#000" stroke-width="1.3"/>
<line x1="294.27" y1="777.60" x2="294.27" y2="774.60" stroke="#000" stroke-width="1.3"/>
<text x="270.95" y="793.8000000000001" font-size="13.4" text-anchor="middle" fill="#000">5</text>
<line x1="317.58" y1="777.60" x2="317.58" y2="772.00" stroke="#000" stroke-width="1.3"/>
<text x="317.5833333333333" y="793.8000000000001" font-size="13.4" text-anchor="middle" fill="#000">6</text>
<text x="55.6" y="782.1" font-size="13.4" text-anchor="end" fill="#000">0</text>
<text x="55.6" y="744.1166666666667" font-size="13.4" text-anchor="end" fill="#000">20</text>
<text x="55.6" y="706.1333333333333" font-size="13.4" text-anchor="end" fill="#000">40</text>
<text x="55.6" y="668.1500000000001" font-size="13.4" text-anchor="end" fill="#000">60</text>
<text x="55.6" y="630.1666666666667" font-size="13.4" text-anchor="end" fill="#000">80</text>
<text x="55.6" y="592.1833333333334" font-size="13.4" text-anchor="end" fill="#000">100</text>
<text x="55.6" y="554.2" font-size="13.4" text-anchor="end" fill="#000">120</text>
<text x="64.9" y="566.3000000000001" font-size="16.8" textLength="19.58" lengthAdjust="spacingAndGlyphs" fill="#000">(e)</text>
<rect x="186.90" y="553.70" width="23.60" height="10.70" fill="#0014be"/>
<rect x="186.90" y="569.80" width="23.60" height="11.20" fill="#afffe1"/>
<text x="214.20000000000002" y="563.1" font-size="13.1" fill="#000">Diffusion Controlled</text>
<text x="214.20000000000002" y="579.7" font-size="13.1" fill="#000">Capacitive Controlled</text>
<text x="201.0" y="809.6" font-size="17.3" text-anchor="middle" fill="#000">Scan Rate (mV/s)</text>
<text transform="translate(30.6,663.4) rotate(-90)" font-size="17.2" text-anchor="middle" fill="#000">Contribution Ratio %</text>
<rect x="407.33" y="587.68" width="28.40" height="67.99" fill="#0014be"/>
<rect x="407.33" y="655.67" width="28.40" height="121.93" fill="#afffe1"/>
<rect x="453.78" y="587.68" width="28.40" height="53.94" fill="#0014be"/>
<rect x="453.78" y="641.62" width="28.40" height="135.98" fill="#afffe1"/>
<rect x="500.22" y="587.68" width="28.40" height="46.34" fill="#0014be"/>
<rect x="500.22" y="634.02" width="28.40" height="143.58" fill="#afffe1"/>
<rect x="546.67" y="587.68" width="28.40" height="41.59" fill="#0014be"/>
<rect x="546.67" y="629.28" width="28.40" height="148.32" fill="#afffe1"/>
<rect x="593.12" y="587.68" width="28.40" height="38.36" fill="#0014be"/>
<rect x="593.12" y="626.05" width="28.40" height="151.55" fill="#afffe1"/>
<rect x="639.57" y="587.68" width="28.40" height="35.70" fill="#0014be"/>
<rect x="639.57" y="623.39" width="28.40" height="154.21" fill="#afffe1"/>
<rect x="398.30" y="549.70" width="278.70" height="227.90" fill="none" stroke="#000" stroke-width="1.4"/>
<line x1="398.30" y1="758.61" x2="401.50" y2="758.61" stroke="#000" stroke-width="1.3"/>
<line x1="398.30" y1="739.62" x2="404.10" y2="739.62" stroke="#000" stroke-width="1.3"/>
<line x1="398.30" y1="720.62" x2="401.50" y2="720.62" stroke="#000" stroke-width="1.3"/>
<line x1="398.30" y1="701.63" x2="404.10" y2="701.63" stroke="#000" stroke-width="1.3"/>
<line x1="398.30" y1="682.64" x2="401.50" y2="682.64" stroke="#000" stroke-width="1.3"/>
<line x1="398.30" y1="663.65" x2="404.10" y2="663.65" stroke="#000" stroke-width="1.3"/>
<line x1="398.30" y1="644.66" x2="401.50" y2="644.66" stroke="#000" stroke-width="1.3"/>
<line x1="398.30" y1="625.67" x2="404.10" y2="625.67" stroke="#000" stroke-width="1.3"/>
<line x1="398.30" y1="606.68" x2="401.50" y2="606.68" stroke="#000" stroke-width="1.3"/>
<line x1="398.30" y1="587.68" x2="404.10" y2="587.68" stroke="#000" stroke-width="1.3"/>
<line x1="398.30" y1="568.69" x2="401.50" y2="568.69" stroke="#000" stroke-width="1.3"/>
<line x1="421.53" y1="777.60" x2="421.53" y2="772.00" stroke="#000" stroke-width="1.3"/>
<line x1="444.75" y1="777.60" x2="444.75" y2="774.60" stroke="#000" stroke-width="1.3"/>
<text x="421.52500000000003" y="793.8000000000001" font-size="13.4" text-anchor="middle" fill="#000">1</text>
<line x1="467.98" y1="777.60" x2="467.98" y2="772.00" stroke="#000" stroke-width="1.3"/>
<line x1="491.20" y1="777.60" x2="491.20" y2="774.60" stroke="#000" stroke-width="1.3"/>
<text x="467.975" y="793.8000000000001" font-size="13.4" text-anchor="middle" fill="#000">2</text>
<line x1="514.42" y1="777.60" x2="514.42" y2="772.00" stroke="#000" stroke-width="1.3"/>
<line x1="537.65" y1="777.60" x2="537.65" y2="774.60" stroke="#000" stroke-width="1.3"/>
<text x="514.425" y="793.8000000000001" font-size="13.4" text-anchor="middle" fill="#000">3</text>
<line x1="560.88" y1="777.60" x2="560.88" y2="772.00" stroke="#000" stroke-width="1.3"/>
<line x1="584.10" y1="777.60" x2="584.10" y2="774.60" stroke="#000" stroke-width="1.3"/>
<text x="560.875" y="793.8000000000001" font-size="13.4" text-anchor="middle" fill="#000">4</text>
<line x1="607.33" y1="777.60" x2="607.33" y2="772.00" stroke="#000" stroke-width="1.3"/>
<line x1="630.55" y1="777.60" x2="630.55" y2="774.60" stroke="#000" stroke-width="1.3"/>
<text x="607.325" y="793.8000000000001" font-size="13.4" text-anchor="middle" fill="#000">5</text>
<line x1="653.77" y1="777.60" x2="653.77" y2="772.00" stroke="#000" stroke-width="1.3"/>
<text x="653.775" y="793.8000000000001" font-size="13.4" text-anchor="middle" fill="#000">6</text>
<text x="392.8" y="782.1" font-size="13.4" text-anchor="end" fill="#000">0</text>
<text x="392.8" y="744.1166666666667" font-size="13.4" text-anchor="end" fill="#000">20</text>
<text x="392.8" y="706.1333333333333" font-size="13.4" text-anchor="end" fill="#000">40</text>
<text x="392.8" y="668.1500000000001" font-size="13.4" text-anchor="end" fill="#000">60</text>
<text x="392.8" y="630.1666666666667" font-size="13.4" text-anchor="end" fill="#000">80</text>
<text x="392.8" y="592.1833333333334" font-size="13.4" text-anchor="end" fill="#000">100</text>
<text x="392.8" y="554.2" font-size="13.4" text-anchor="end" fill="#000">120</text>
<text x="402.1" y="566.3000000000001" font-size="16.8" textLength="17.62" lengthAdjust="spacingAndGlyphs" fill="#000">(f)</text>
<rect x="524.80" y="553.70" width="23.60" height="10.70" fill="#0014be"/>
<rect x="524.80" y="569.80" width="23.60" height="11.20" fill="#afffe1"/>
<text x="552.0999999999999" y="563.1" font-size="13.1" fill="#000">Diffusion Controlled</text>
<text x="552.0999999999999" y="579.7" font-size="13.1" fill="#000">Capacitive Controlled</text>
<text x="537.65" y="809.6" font-size="17.3" text-anchor="middle" fill="#000">Scan Rate (mV/s)</text>
<text transform="translate(367.8,663.4) rotate(-90)" font-size="17.2" text-anchor="middle" fill="#000">Contribution Ratio %</text>
</svg>
</body></html>
